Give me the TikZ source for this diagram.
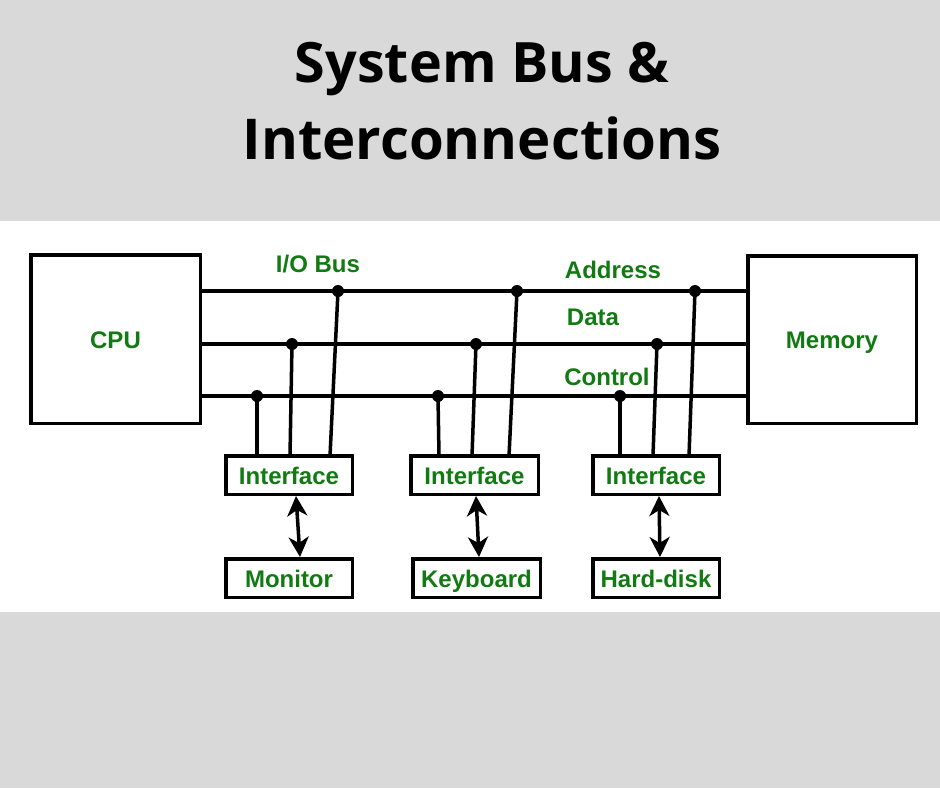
\documentclass[tikz,border=0pt]{standalone}
\usepackage{fontspec}
\usepackage{graphicx}
\setmainfont{Liberation Sans}
\newfontfamily\titlefont{Open Sans}
\usetikzlibrary{arrows.meta}
\definecolor{bggray}{RGB}{217,217,217}
\definecolor{lblgreen}{RGB}{18,122,18}
\begin{document}
\begin{tikzpicture}[x=1pt,y=-1pt,
  box/.style={draw=black,line width=3.5pt,fill=white,inner sep=0pt,
    font=\fontsize{24}{28}\selectfont\bfseries,text=lblgreen,
    text height=18pt,text depth=0pt},
  bus/.style={line width=3.5pt},
  lbl/.style={font=\fontsize{24}{28}\selectfont\bfseries,text=lblgreen,anchor=base,inner sep=0pt},
  tip/.tip={Stealth[length=20pt,width=20pt,inset=6pt]},
  dbl/.style={line width=3.5pt,tip-tip},
  ttl/.style={font=\titlefont\fontsize{56}{60}\selectfont\bfseries,anchor=base,inner sep=0pt}]
\useasboundingbox (0,0) rectangle (940,788);
\fill[bggray] (0,0) rectangle (940,788);
\fill[white] (0,221) rectangle (940,612);

% title
\node[ttl] (t1) at (482,82) {\resizebox{374pt}{!}{System Bus \&}};
\node[ttl] (t2) at (482,159) {\resizebox{479pt}{!}{Interconnections}};

% main boxes
\node[box,minimum width=169.5pt,minimum height=168.5pt] (cpu) at (115.5,339) {CPU};
\node[box,minimum width=168.5pt,minimum height=167.5pt] (mem) at (832,339.5) {Memory};

% bus dots (positions)
\coordinate (a1) at (338,291); \coordinate (a2) at (517,291); \coordinate (a3) at (695,291);
\coordinate (d1) at (292,344); \coordinate (d2) at (476,344); \coordinate (d3) at (657,344);
\coordinate (c1) at (257,396); \coordinate (c2) at (438,396); \coordinate (c3) at (620,396);

% bus lines
\draw[bus] (cpu.east |- a1) -- (mem.west |- a1);
\draw[bus] (cpu.east |- d1) -- (mem.west |- d1);
\draw[bus] (cpu.east |- c1) -- (mem.west |- c1);

% lower ends of the taps
\coordinate (a1b) at (330,456); \coordinate (d1b) at (290,456); \coordinate (c1b) at (257,456);
\coordinate (a2b) at (509,456); \coordinate (d2b) at (472,456); \coordinate (c2b) at (439,456);
\coordinate (a3b) at (689,456); \coordinate (d3b) at (653,456); \coordinate (c3b) at (620,456);

\foreach \p in {a1,d1,c1,a2,d2,c2,a3,d3,c3}{
  \draw[bus] (\p) -- (\p b);
  \fill (\p) circle (6pt);
}

% interfaces and devices
\node[box,minimum width=126.5pt,minimum height=38.5pt] (if1) at (289,475) {Interface};
\node[box,minimum width=127.5pt,minimum height=38.5pt] (if2) at (474.5,475) {Interface};
\node[box,minimum width=126.5pt,minimum height=38.5pt] (if3) at (656,475) {Interface};
\node[box,minimum width=126.5pt,minimum height=38.5pt] (mon) at (289,578) {Monitor};
\node[box,minimum width=127.5pt,minimum height=38.5pt] (kb) at (476.5,578) {Keyboard};
\node[box,minimum width=126.5pt,minimum height=38.5pt] (hd) at (656,578) {Hard-disk};

\draw[dbl] ([xshift=7pt]if1.south) -- ([xshift=11pt]mon.north);
\draw[dbl] ([xshift=1.5pt]if2.south) -- ([xshift=2.5pt]kb.north);
\draw[dbl] ([xshift=3pt]if3.south) -- ([xshift=4pt]hd.north);

% bus labels
\node[lbl] (iob) at (318,272) {I/O Bus};
\node[lbl] (adr) at (613,278) {Address};
\node[lbl] (dat) at (593,325) {Data};
\node[lbl] (ctl) at (607,385) {Control};
\end{tikzpicture}
\end{document}
